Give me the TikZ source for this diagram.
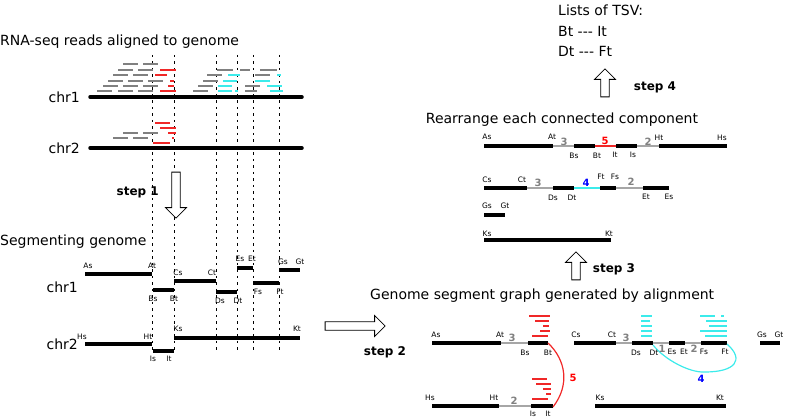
\documentclass[tikz,border=0pt]{standalone}
\usepackage{fontspec}
\setmainfont{DejaVu Sans}
\usetikzlibrary{shapes.arrows}
\definecolor{lcyan}{RGB}{60,235,235}
\definecolor{lred}{RGB}{240,40,40}
\tikzset{
  seg/.style={line width=4.5pt},
  chrom/.style={line width=3.5pt,line cap=round},
  gap/.style={gray!70,line width=1.2pt},
  vdash/.style={line width=0.5pt,dash pattern=on 2.5pt off 4pt},
  read/.style={line width=1.1pt},
  lab/.style={font=\fontsize{7.5}{8}\selectfont,inner sep=0pt},
  title/.style={font=\fontsize{14}{16}\selectfont,inner sep=0pt},
  big/.style={font=\fontsize{14}{16}\selectfont,inner sep=0pt,anchor=west},
  steplab/.style={font=\bfseries\fontsize{12}{14}\selectfont,inner sep=0pt},
  num/.style={font=\bfseries\fontsize{10}{11}\selectfont,inner sep=0pt,gray},
  hollow/.style={single arrow,draw,line width=0.8pt,fill=white,minimum height=46pt,
    minimum width=21pt,single arrow head extend=5pt,inner sep=3pt}
}
\newcommand{\rds}[2]{\foreach \a/\b/\c in {#2}{\draw[read,#1] (\a,\c) -- (\b,\c);}}
\begin{document}
\begin{tikzpicture}[x=1pt,y=-1pt]
\useasboundingbox (0,0) rectangle (785,419);

% ---------- panel 1
\node[title,anchor=west] (t1) at (0,42) {RNA-seq reads aligned to genome};
\foreach \x in {152,174,216,237,253,279}{\draw[vdash] (\x,55) -- (\x,350);}
\node[title,anchor=east] (c1) at (80,97) {chr1};
\node[title,anchor=east] (c2) at (80,148) {chr2};
\draw[chrom] (90,97) -- (302,97);
\draw[chrom] (90,148) -- (302,148);
\rds{gray}{123/138/64,143/158/64,118/133/70,138/153/70,217/233/70,240/250/70,260/277/70,
  113/128/75,133/148/75,207/222/75,255/270/75,108/123/81,128/143/81,148/163/81,203/218/81,
  103/118/86,123/138/86,143/158/86,198/213/86,245/260/86,97/112/91,118/133/91,138/153/91,
  193/208/91,245/257/91,
  123/138/133,143/158/133,113/128/138,133/148/138}
\rds{lred}{160/176/70,155/167/75,170/174/81,168/174/86,160/176/91,
  155/170/123,160/176/128,168/176/133,172/174/138,153/170/143}
\rds{lcyan}{228/240/75,277/281/75,223/237/81,255/270/81,218/232/86,267/282/86,218/232/91,235/238/91,270/283/91}

\node[hollow,shape border rotate=270] (a1) at (176,193) {};
\node[steplab,anchor=east] (s1) at (159,192) {step 1};

% ---------- panel 2
\node[title,anchor=west] (t2) at (0,242) {Segmenting genome};
\node[title,anchor=east] (c3) at (78,287) {chr1};
\node[title,anchor=east] (c4) at (78,344) {chr2};
\draw[seg] (85,274) -- (152,274);
\draw[seg] (153,290) -- (174,290);
\draw[seg] (174,281) -- (216,281);
\draw[seg] (216,292) -- (237,292);
\draw[seg] (237,268) -- (253,268);
\draw[seg] (253,283) -- (279,283);
\draw[seg] (279,270) -- (300,270);
\draw[seg] (85,344) -- (152,344);
\draw[seg] (153,351) -- (174,351);
\draw[seg] (174,338) -- (300,338);
\foreach \t/\x/\y in {As/88/266,At/152/266,Bs/153/299,Bt/174/299,Cs/178/273,Ct/212/273,
  Ds/220/301,Dt/238/301,Es/240/259,Et/252/259,Fs/258/292,Ft/280/292,Gs/283/262,Gt/300/262,
  Hs/82/337,Ht/148/337,Is/153/359,It/169/359,Ks/178/329,Kt/297/329}
  {\node[lab] (l2\t) at (\x,\y) {\t};}

\node[hollow,shape border rotate=8,minimum height=60pt] (a2) at (353,326) {};
\node[steplab] (s2) at (385,352) {step 2};

% ---------- panel 3
\node[title,anchor=west] (t3) at (370,296) {Genome segment graph generated by alignment};
\draw[gap] (501,343) -- (528,343);
\draw[gap] (616,343) -- (632,343) (653,343) -- (669,343) (685,343) -- (701,343);
\draw[gap] (499,406) -- (531,406);
\draw[seg] (432,343) -- (501,343);
\draw[seg] (528,343) -- (548,343);
\draw[seg] (574,343) -- (616,343);
\draw[seg] (632,343) -- (653,343);
\draw[seg] (669,343) -- (685,343);
\draw[seg] (701,343) -- (727,343);
\draw[seg] (760,343) -- (780,343);
\draw[seg] (432,406) -- (499,406);
\draw[seg] (531,406) -- (553,406);
\draw[seg] (595,406) -- (726,406);
\rds{lred}{529/550/316,535/549/321,543/549/326,540/550/331,532/548/336,
  532/547/379,536/551/384,543/551/389,546/551/394,532/548/399}
\rds{lcyan}{641/652/316,641/650/321,641/652/326,641/652/331,641/652/336,
  700/715/316,721/724/316,706/727/321,709/727/326,700/727/331,705/727/336}
\coordinate (bt3) at (548,343);
\coordinate (it3) at (553,407);
\coordinate (dt3) at (653,345);
\coordinate (ft3) at (727,344);
\draw[lred,line width=1.2pt] (bt3) .. controls (566,360) and (570,385) .. (it3);
\draw[lcyan,line width=1.2pt] (dt3) .. controls (665,360) and (690,373) .. (705,372)
  .. controls (735,372) and (745,360) .. (ft3);
\node[num,red] (n5) at (573,378) {5};
\node[num,blue] (n4) at (701,379) {4};
\node[num] (n3a) at (512,338) {3};
\node[num] (n3b) at (626,338) {3};
\node[num] (n1) at (662,349) {1};
\node[num] (n2a) at (694,349) {2};
\node[num] (n2b) at (514,401) {2};
\foreach \t/\x/\y in {As/436/335,At/500/335,Bs/525/353,Bt/548/353,Cs/576/335,Ct/612/335,
  Ds/636/353,Dt/654/353,Es/672/352,Et/684/352,Fs/704/352,Ft/725/352,Gs/762/335,Gt/779/335,
  Hs/430/398,Ht/494/398,Is/533/414,It/548/414,Ks/600/398,Kt/720/398}
  {\node[lab] (l3\t) at (\x,\y) {\t};}

\node[hollow,shape border rotate=90,minimum height=28pt] (a3) at (576,268) {};
\node[steplab] (s3) at (614,269) {step 3};

% ---------- panel 4
\node[title] (t4) at (562,120) {Rearrange each connected component};
\draw[gap] (553,146) -- (574,146) (637,146) -- (659,146);
\draw[lred,line width=1.2pt] (595,146) -- (616,146);
\draw[gap] (527,188) -- (553,188) (616,188) -- (643,188);
\draw[lcyan,line width=1.2pt] (574,188) -- (600,188);
\draw[seg] (484,146) -- (553,146);
\draw[seg] (574,146) -- (595,146);
\draw[seg] (616,146) -- (637,146);
\draw[seg] (659,146) -- (727,146);
\draw[seg] (484,188) -- (527,188);
\draw[seg] (553,188) -- (574,188);
\draw[seg] (600,188) -- (616,188);
\draw[seg] (643,188) -- (669,188);
\draw[seg] (484,215) -- (505,215);
\draw[seg] (484,240) -- (611,240);
\node[num] (m3a) at (564,142) {3};
\node[num,red] (m5) at (605,141) {5};
\node[num] (m2a) at (648,142) {2};
\node[num] (m3b) at (538,183) {3};
\node[num,blue] (m4) at (586,183) {4};
\node[num] (m2b) at (631,182) {2};
\foreach \t/\x/\y in {As/487/137,At/552/137,Bs/574/156,Bt/597/156,It/615/155,Is/633/155,
  Ht/659/138,Hs/722/138,Cs/487/180,Ct/522/180,Ds/553/198,Dt/572/198,Ft/601/177,Fs/615/177,
  Et/646/197,Es/669/197,Gs/487/206,Gt/505/206,Ks/487/234,Kt/609/234}
  {\node[lab] (l4\t) at (\x,\y) {\t};}

\node[hollow,shape border rotate=90,minimum height=28pt] (a4) at (605,85) {};
\node[steplab] (s4) at (655,87) {step 4};

\node[big] (tsv) at (558,10) {Lists of TSV:};
\node[big] (p1) at (558,31) {Bt {-}{-}{-} It};
\node[big] (p2) at (558,51) {Dt {-}{-}{-} Ft};
\end{tikzpicture}
\end{document}
